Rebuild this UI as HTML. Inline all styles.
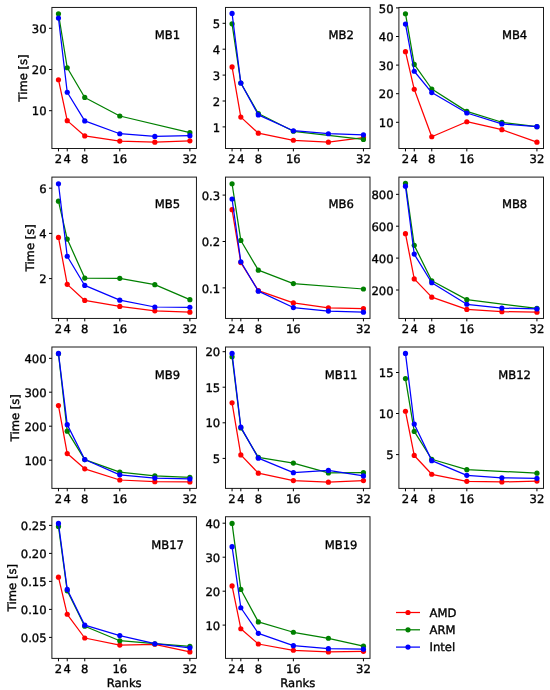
<!DOCTYPE html>
<html lang="en"><head><meta charset="utf-8"><title>Benchmark scaling</title>
<style>html,body{margin:0;padding:0;background:#fff}svg{display:block}</style></head>
<body>
<svg width="550" height="690" viewBox="0 0 550 690" font-family="'DejaVu Sans', 'Liberation Sans', sans-serif" font-size="11.60" fill="#000" stroke="#000" stroke-width="0.35" text-rendering="geometricPrecision">
<rect width="550" height="690" fill="#fff" stroke="none"/>
<g>
<polyline fill="none" stroke="#ff0000" stroke-width="1.25" stroke-linejoin="round" points="58.47,79.73 67.23,120.64 84.75,135.91 119.79,141.09 154.84,142.18 189.88,140.82"/>
<g stroke="none" fill="#ff0000"><circle cx="58.47" cy="79.73" r="2.6"/><circle cx="67.23" cy="120.64" r="2.6"/><circle cx="84.75" cy="135.91" r="2.6"/><circle cx="119.79" cy="141.09" r="2.6"/><circle cx="154.84" cy="142.18" r="2.6"/><circle cx="189.88" cy="140.82" r="2.6"/></g>
<polyline fill="none" stroke="#008000" stroke-width="1.25" stroke-linejoin="round" points="58.47,13.73 67.23,67.73 84.75,97.45 119.79,116 189.88,132.64"/>
<g stroke="none" fill="#008000"><circle cx="58.47" cy="13.73" r="2.6"/><circle cx="67.23" cy="67.73" r="2.6"/><circle cx="84.75" cy="97.45" r="2.6"/><circle cx="119.79" cy="116" r="2.6"/><circle cx="189.88" cy="132.64" r="2.6"/></g>
<polyline fill="none" stroke="#0000ff" stroke-width="1.25" stroke-linejoin="round" points="58.47,18.09 67.23,92.27 84.75,120.91 119.79,133.73 154.84,136.45 189.88,135.64"/>
<g stroke="none" fill="#0000ff"><circle cx="58.47" cy="18.09" r="2.6"/><circle cx="67.23" cy="92.27" r="2.6"/><circle cx="84.75" cy="120.91" r="2.6"/><circle cx="119.79" cy="133.73" r="2.6"/><circle cx="154.84" cy="136.45" r="2.6"/><circle cx="189.88" cy="135.64" r="2.6"/></g>
<rect x="51.9" y="7.45" width="144.55" height="141.05" fill="none" stroke="#1a1a1a" stroke-width="1.0"/>
<path d="M58.47 148.5v2.9M67.23 148.5v2.9M84.75 148.5v2.9M119.79 148.5v2.9M189.88 148.5v2.9M51.9 28.3h-2.9M51.9 69.5h-2.9M51.9 110.7h-2.9" stroke="#000" stroke-width="1.0" fill="none"/>
<g text-anchor="middle"><text x="58.47" y="163.2">2</text><text x="67.23" y="163.2">4</text><text x="84.75" y="163.2">8</text><text x="119.79" y="163.2">16</text><text x="189.88" y="163.2">32</text></g>
<g text-anchor="end"><text x="46.6" y="32.95">30</text><text x="46.6" y="74.15">20</text><text x="46.6" y="115.35">10</text></g>
<text text-anchor="middle" x="167.54" y="38.85">MB1</text>
<text text-anchor="middle" transform="translate(26.7 77.98) rotate(-90)">Time [s]</text>
</g>
<g>
<polyline fill="none" stroke="#ff0000" stroke-width="1.25" stroke-linejoin="round" points="232.07,66.91 240.83,117.09 258.34,133.18 293.37,140.27 328.4,142.18 363.43,137.55"/>
<g stroke="none" fill="#ff0000"><circle cx="232.07" cy="66.91" r="2.6"/><circle cx="240.83" cy="117.09" r="2.6"/><circle cx="258.34" cy="133.18" r="2.6"/><circle cx="293.37" cy="140.27" r="2.6"/><circle cx="328.4" cy="142.18" r="2.6"/><circle cx="363.43" cy="137.55" r="2.6"/></g>
<polyline fill="none" stroke="#008000" stroke-width="1.25" stroke-linejoin="round" points="232.07,23.82 240.83,83 258.34,113.55 293.37,131.27 363.43,139.45"/>
<g stroke="none" fill="#008000"><circle cx="232.07" cy="23.82" r="2.6"/><circle cx="240.83" cy="83" r="2.6"/><circle cx="258.34" cy="113.55" r="2.6"/><circle cx="293.37" cy="131.27" r="2.6"/><circle cx="363.43" cy="139.45" r="2.6"/></g>
<polyline fill="none" stroke="#0000ff" stroke-width="1.25" stroke-linejoin="round" points="232.07,13.45 240.83,83 258.34,114.91 293.37,130.73 328.4,133.73 363.43,134.82"/>
<g stroke="none" fill="#0000ff"><circle cx="232.07" cy="13.45" r="2.6"/><circle cx="240.83" cy="83" r="2.6"/><circle cx="258.34" cy="114.91" r="2.6"/><circle cx="293.37" cy="130.73" r="2.6"/><circle cx="328.4" cy="133.73" r="2.6"/><circle cx="363.43" cy="134.82" r="2.6"/></g>
<rect x="225.5" y="7.45" width="144.5" height="141.05" fill="none" stroke="#1a1a1a" stroke-width="1.0"/>
<path d="M232.07 148.5v2.9M240.83 148.5v2.9M258.34 148.5v2.9M293.37 148.5v2.9M363.43 148.5v2.9M225.5 23.3h-2.9M225.5 49.2h-2.9M225.5 75.1h-2.9M225.5 101h-2.9M225.5 126.9h-2.9" stroke="#000" stroke-width="1.0" fill="none"/>
<g text-anchor="middle"><text x="232.07" y="163.2">2</text><text x="240.83" y="163.2">4</text><text x="258.34" y="163.2">8</text><text x="293.37" y="163.2">16</text><text x="363.43" y="163.2">32</text></g>
<g text-anchor="end"><text x="220.2" y="27.95">5</text><text x="220.2" y="53.85">4</text><text x="220.2" y="79.75">3</text><text x="220.2" y="105.65">2</text><text x="220.2" y="131.55">1</text></g>
<text text-anchor="middle" x="341.1" y="38.85">MB2</text>
</g>
<g>
<polyline fill="none" stroke="#ff0000" stroke-width="1.25" stroke-linejoin="round" points="405.47,51.64 414.24,89.27 431.76,136.73 466.82,121.73 501.87,129.64 536.93,142.18"/>
<g stroke="none" fill="#ff0000"><circle cx="405.47" cy="51.64" r="2.6"/><circle cx="414.24" cy="89.27" r="2.6"/><circle cx="431.76" cy="136.73" r="2.6"/><circle cx="466.82" cy="121.73" r="2.6"/><circle cx="501.87" cy="129.64" r="2.6"/><circle cx="536.93" cy="142.18" r="2.6"/></g>
<polyline fill="none" stroke="#008000" stroke-width="1.25" stroke-linejoin="round" points="405.47,13.73 414.24,64.45 431.76,89 466.82,111.36 501.87,122.27 536.93,126.64"/>
<g stroke="none" fill="#008000"><circle cx="405.47" cy="13.73" r="2.6"/><circle cx="414.24" cy="64.45" r="2.6"/><circle cx="431.76" cy="89" r="2.6"/><circle cx="466.82" cy="111.36" r="2.6"/><circle cx="501.87" cy="122.27" r="2.6"/><circle cx="536.93" cy="126.64" r="2.6"/></g>
<polyline fill="none" stroke="#0000ff" stroke-width="1.25" stroke-linejoin="round" points="405.47,24.09 414.24,71.27 431.76,92.55 466.82,113 501.87,123.91 536.93,126.64"/>
<g stroke="none" fill="#0000ff"><circle cx="405.47" cy="24.09" r="2.6"/><circle cx="414.24" cy="71.27" r="2.6"/><circle cx="431.76" cy="92.55" r="2.6"/><circle cx="466.82" cy="113" r="2.6"/><circle cx="501.87" cy="123.91" r="2.6"/><circle cx="536.93" cy="126.64" r="2.6"/></g>
<rect x="398.9" y="7.45" width="144.6" height="141.05" fill="none" stroke="#1a1a1a" stroke-width="1.0"/>
<path d="M405.47 148.5v2.9M414.24 148.5v2.9M431.76 148.5v2.9M466.82 148.5v2.9M536.93 148.5v2.9M398.9 7.9h-2.9M398.9 36.5h-2.9M398.9 65.1h-2.9M398.9 93.7h-2.9M398.9 122.3h-2.9" stroke="#000" stroke-width="1.0" fill="none"/>
<g text-anchor="middle"><text x="405.47" y="163.2">2</text><text x="414.24" y="163.2">4</text><text x="431.76" y="163.2">8</text><text x="466.82" y="163.2">16</text><text x="536.93" y="163.2">32</text></g>
<g text-anchor="end"><text x="393.6" y="12.55">50</text><text x="393.6" y="41.15">40</text><text x="393.6" y="69.75">30</text><text x="393.6" y="98.35">20</text><text x="393.6" y="126.95">10</text></g>
<text text-anchor="middle" x="514.58" y="38.85">MB4</text>
</g>
<g>
<polyline fill="none" stroke="#ff0000" stroke-width="1.25" stroke-linejoin="round" points="58.47,237.45 67.23,284.36 84.75,300.45 119.79,306.45 154.84,310.82 189.88,312.18"/>
<g stroke="none" fill="#ff0000"><circle cx="58.47" cy="237.45" r="2.6"/><circle cx="67.23" cy="284.36" r="2.6"/><circle cx="84.75" cy="300.45" r="2.6"/><circle cx="119.79" cy="306.45" r="2.6"/><circle cx="154.84" cy="310.82" r="2.6"/><circle cx="189.88" cy="312.18" r="2.6"/></g>
<polyline fill="none" stroke="#008000" stroke-width="1.25" stroke-linejoin="round" points="58.47,201.18 67.23,239.09 84.75,278.09 119.79,278.36 154.84,284.64 189.88,299.64"/>
<g stroke="none" fill="#008000"><circle cx="58.47" cy="201.18" r="2.6"/><circle cx="67.23" cy="239.09" r="2.6"/><circle cx="84.75" cy="278.09" r="2.6"/><circle cx="119.79" cy="278.36" r="2.6"/><circle cx="154.84" cy="284.64" r="2.6"/><circle cx="189.88" cy="299.64" r="2.6"/></g>
<polyline fill="none" stroke="#0000ff" stroke-width="1.25" stroke-linejoin="round" points="58.47,183.73 67.23,256.27 84.75,285.45 119.79,300.18 154.84,307 189.88,307.27"/>
<g stroke="none" fill="#0000ff"><circle cx="58.47" cy="183.73" r="2.6"/><circle cx="67.23" cy="256.27" r="2.6"/><circle cx="84.75" cy="285.45" r="2.6"/><circle cx="119.79" cy="300.18" r="2.6"/><circle cx="154.84" cy="307" r="2.6"/><circle cx="189.88" cy="307.27" r="2.6"/></g>
<rect x="51.9" y="177.1" width="144.55" height="141.35" fill="none" stroke="#1a1a1a" stroke-width="1.0"/>
<path d="M58.47 318.45v2.9M67.23 318.45v2.9M84.75 318.45v2.9M119.79 318.45v2.9M189.88 318.45v2.9M51.9 188.2h-2.9M51.9 233.4h-2.9M51.9 278.6h-2.9" stroke="#000" stroke-width="1.0" fill="none"/>
<g text-anchor="middle"><text x="58.47" y="333.15">2</text><text x="67.23" y="333.15">4</text><text x="84.75" y="333.15">8</text><text x="119.79" y="333.15">16</text><text x="189.88" y="333.15">32</text></g>
<g text-anchor="end"><text x="46.6" y="192.85">6</text><text x="46.6" y="238.05">4</text><text x="46.6" y="283.25">2</text></g>
<text text-anchor="middle" x="167.54" y="208.2">MB5</text>
<text text-anchor="middle" transform="translate(34 247.77) rotate(-90)">Time [s]</text>
</g>
<g>
<polyline fill="none" stroke="#ff0000" stroke-width="1.25" stroke-linejoin="round" points="232.07,209.64 240.83,262.55 258.34,290.64 293.37,302.91 328.4,307.82 363.43,308.64"/>
<g stroke="none" fill="#ff0000"><circle cx="232.07" cy="209.64" r="2.6"/><circle cx="240.83" cy="262.55" r="2.6"/><circle cx="258.34" cy="290.64" r="2.6"/><circle cx="293.37" cy="302.91" r="2.6"/><circle cx="328.4" cy="307.82" r="2.6"/><circle cx="363.43" cy="308.64" r="2.6"/></g>
<polyline fill="none" stroke="#008000" stroke-width="1.25" stroke-linejoin="round" points="232.07,183.73 240.83,240.45 258.34,270.18 293.37,283.55 363.43,289"/>
<g stroke="none" fill="#008000"><circle cx="232.07" cy="183.73" r="2.6"/><circle cx="240.83" cy="240.45" r="2.6"/><circle cx="258.34" cy="270.18" r="2.6"/><circle cx="293.37" cy="283.55" r="2.6"/><circle cx="363.43" cy="289" r="2.6"/></g>
<polyline fill="none" stroke="#0000ff" stroke-width="1.25" stroke-linejoin="round" points="232.07,199 240.83,261.73 258.34,291.18 293.37,307.55 328.4,311.09 363.43,312.18"/>
<g stroke="none" fill="#0000ff"><circle cx="232.07" cy="199" r="2.6"/><circle cx="240.83" cy="261.73" r="2.6"/><circle cx="258.34" cy="291.18" r="2.6"/><circle cx="293.37" cy="307.55" r="2.6"/><circle cx="328.4" cy="311.09" r="2.6"/><circle cx="363.43" cy="312.18" r="2.6"/></g>
<rect x="225.5" y="177.1" width="144.5" height="141.35" fill="none" stroke="#1a1a1a" stroke-width="1.0"/>
<path d="M232.07 318.45v2.9M240.83 318.45v2.9M258.34 318.45v2.9M293.37 318.45v2.9M363.43 318.45v2.9M225.5 195.1h-2.9M225.5 241.5h-2.9M225.5 287.9h-2.9" stroke="#000" stroke-width="1.0" fill="none"/>
<g text-anchor="middle"><text x="232.07" y="333.15">2</text><text x="240.83" y="333.15">4</text><text x="258.34" y="333.15">8</text><text x="293.37" y="333.15">16</text><text x="363.43" y="333.15">32</text></g>
<g text-anchor="end"><text x="220.2" y="199.75">0.3</text><text x="220.2" y="246.15">0.2</text><text x="220.2" y="292.55">0.1</text></g>
<text text-anchor="middle" x="341.1" y="208.2">MB6</text>
</g>
<g>
<polyline fill="none" stroke="#ff0000" stroke-width="1.25" stroke-linejoin="round" points="405.47,233.64 414.24,278.91 431.76,297.18 466.82,309.45 501.87,311.64 536.93,312.18"/>
<g stroke="none" fill="#ff0000"><circle cx="405.47" cy="233.64" r="2.6"/><circle cx="414.24" cy="278.91" r="2.6"/><circle cx="431.76" cy="297.18" r="2.6"/><circle cx="466.82" cy="309.45" r="2.6"/><circle cx="501.87" cy="311.64" r="2.6"/><circle cx="536.93" cy="312.18" r="2.6"/></g>
<polyline fill="none" stroke="#008000" stroke-width="1.25" stroke-linejoin="round" points="405.47,183.45 414.24,245.36 431.76,280.82 466.82,299.64 536.93,308.36"/>
<g stroke="none" fill="#008000"><circle cx="405.47" cy="183.45" r="2.6"/><circle cx="414.24" cy="245.36" r="2.6"/><circle cx="431.76" cy="280.82" r="2.6"/><circle cx="466.82" cy="299.64" r="2.6"/><circle cx="536.93" cy="308.36" r="2.6"/></g>
<polyline fill="none" stroke="#0000ff" stroke-width="1.25" stroke-linejoin="round" points="405.47,186.18 414.24,254.09 431.76,282.73 466.82,304.27 501.87,308.09 536.93,308.91"/>
<g stroke="none" fill="#0000ff"><circle cx="405.47" cy="186.18" r="2.6"/><circle cx="414.24" cy="254.09" r="2.6"/><circle cx="431.76" cy="282.73" r="2.6"/><circle cx="466.82" cy="304.27" r="2.6"/><circle cx="501.87" cy="308.09" r="2.6"/><circle cx="536.93" cy="308.91" r="2.6"/></g>
<rect x="398.9" y="177.1" width="144.6" height="141.35" fill="none" stroke="#1a1a1a" stroke-width="1.0"/>
<path d="M405.47 318.45v2.9M414.24 318.45v2.9M431.76 318.45v2.9M466.82 318.45v2.9M536.93 318.45v2.9M398.9 194.35h-2.9M398.9 226.2h-2.9M398.9 258.1h-2.9M398.9 290h-2.9" stroke="#000" stroke-width="1.0" fill="none"/>
<g text-anchor="middle"><text x="405.47" y="333.15">2</text><text x="414.24" y="333.15">4</text><text x="431.76" y="333.15">8</text><text x="466.82" y="333.15">16</text><text x="536.93" y="333.15">32</text></g>
<g text-anchor="end"><text x="393.6" y="199">800</text><text x="393.6" y="230.85">600</text><text x="393.6" y="262.75">400</text><text x="393.6" y="294.65">200</text></g>
<text text-anchor="middle" x="514.58" y="208.2">MB8</text>
</g>
<g>
<polyline fill="none" stroke="#ff0000" stroke-width="1.25" stroke-linejoin="round" points="58.47,405.55 67.23,453.55 84.75,468.82 119.79,480 154.84,481.64 189.88,481.91"/>
<g stroke="none" fill="#ff0000"><circle cx="58.47" cy="405.55" r="2.6"/><circle cx="67.23" cy="453.55" r="2.6"/><circle cx="84.75" cy="468.82" r="2.6"/><circle cx="119.79" cy="480" r="2.6"/><circle cx="154.84" cy="481.64" r="2.6"/><circle cx="189.88" cy="481.91" r="2.6"/></g>
<polyline fill="none" stroke="#008000" stroke-width="1.25" stroke-linejoin="round" points="58.47,353.73 67.23,431.18 84.75,459.55 119.79,472.09 154.84,475.91 189.88,477.27"/>
<g stroke="none" fill="#008000"><circle cx="58.47" cy="353.73" r="2.6"/><circle cx="67.23" cy="431.18" r="2.6"/><circle cx="84.75" cy="459.55" r="2.6"/><circle cx="119.79" cy="472.09" r="2.6"/><circle cx="154.84" cy="475.91" r="2.6"/><circle cx="189.88" cy="477.27" r="2.6"/></g>
<polyline fill="none" stroke="#0000ff" stroke-width="1.25" stroke-linejoin="round" points="58.47,353.45 67.23,424.64 84.75,459.55 119.79,474.82 154.84,478.09 189.88,478.91"/>
<g stroke="none" fill="#0000ff"><circle cx="58.47" cy="353.45" r="2.6"/><circle cx="67.23" cy="424.64" r="2.6"/><circle cx="84.75" cy="459.55" r="2.6"/><circle cx="119.79" cy="474.82" r="2.6"/><circle cx="154.84" cy="478.09" r="2.6"/><circle cx="189.88" cy="478.91" r="2.6"/></g>
<rect x="51.9" y="347" width="144.55" height="141.4" fill="none" stroke="#1a1a1a" stroke-width="1.0"/>
<path d="M58.47 488.4v2.9M67.23 488.4v2.9M84.75 488.4v2.9M119.79 488.4v2.9M189.88 488.4v2.9M51.9 358.35h-2.9M51.9 392.2h-2.9M51.9 426.2h-2.9M51.9 460.2h-2.9" stroke="#000" stroke-width="1.0" fill="none"/>
<g text-anchor="middle"><text x="58.47" y="503.1">2</text><text x="67.23" y="503.1">4</text><text x="84.75" y="503.1">8</text><text x="119.79" y="503.1">16</text><text x="189.88" y="503.1">32</text></g>
<g text-anchor="end"><text x="46.6" y="363">400</text><text x="46.6" y="396.85">300</text><text x="46.6" y="430.85">200</text><text x="46.6" y="464.85">100</text></g>
<text text-anchor="middle" x="167.54" y="378.8">MB9</text>
<text text-anchor="middle" transform="translate(18.7 417.7) rotate(-90)">Time [s]</text>
</g>
<g>
<polyline fill="none" stroke="#ff0000" stroke-width="1.25" stroke-linejoin="round" points="232.07,402.82 240.83,454.91 258.34,473.18 293.37,480.55 328.4,482.18 363.43,480.55"/>
<g stroke="none" fill="#ff0000"><circle cx="232.07" cy="402.82" r="2.6"/><circle cx="240.83" cy="454.91" r="2.6"/><circle cx="258.34" cy="473.18" r="2.6"/><circle cx="293.37" cy="480.55" r="2.6"/><circle cx="328.4" cy="482.18" r="2.6"/><circle cx="363.43" cy="480.55" r="2.6"/></g>
<polyline fill="none" stroke="#008000" stroke-width="1.25" stroke-linejoin="round" points="232.07,356.73 240.83,427.91 258.34,457.36 293.37,463.09 328.4,472.91 363.43,472.64"/>
<g stroke="none" fill="#008000"><circle cx="232.07" cy="356.73" r="2.6"/><circle cx="240.83" cy="427.91" r="2.6"/><circle cx="258.34" cy="457.36" r="2.6"/><circle cx="293.37" cy="463.09" r="2.6"/><circle cx="328.4" cy="472.91" r="2.6"/><circle cx="363.43" cy="472.64" r="2.6"/></g>
<polyline fill="none" stroke="#0000ff" stroke-width="1.25" stroke-linejoin="round" points="232.07,353.45 240.83,427.09 258.34,458.18 293.37,472.64 328.4,470.45 363.43,475.91"/>
<g stroke="none" fill="#0000ff"><circle cx="232.07" cy="353.45" r="2.6"/><circle cx="240.83" cy="427.09" r="2.6"/><circle cx="258.34" cy="458.18" r="2.6"/><circle cx="293.37" cy="472.64" r="2.6"/><circle cx="328.4" cy="470.45" r="2.6"/><circle cx="363.43" cy="475.91" r="2.6"/></g>
<rect x="225.5" y="347" width="144.5" height="141.4" fill="none" stroke="#1a1a1a" stroke-width="1.0"/>
<path d="M232.07 488.4v2.9M240.83 488.4v2.9M258.34 488.4v2.9M293.37 488.4v2.9M363.43 488.4v2.9M225.5 351.7h-2.9M225.5 387.2h-2.9M225.5 422.8h-2.9M225.5 458.4h-2.9" stroke="#000" stroke-width="1.0" fill="none"/>
<g text-anchor="middle"><text x="232.07" y="503.1">2</text><text x="240.83" y="503.1">4</text><text x="258.34" y="503.1">8</text><text x="293.37" y="503.1">16</text><text x="363.43" y="503.1">32</text></g>
<g text-anchor="end"><text x="220.2" y="356.35">20</text><text x="220.2" y="391.85">15</text><text x="220.2" y="427.45">10</text><text x="220.2" y="463.05">5</text></g>
<text text-anchor="middle" x="341.1" y="378.8">MB11</text>
</g>
<g>
<polyline fill="none" stroke="#ff0000" stroke-width="1.25" stroke-linejoin="round" points="405.47,411.27 414.24,455.45 431.76,474.27 466.82,481.36 501.87,481.91 536.93,481.09"/>
<g stroke="none" fill="#ff0000"><circle cx="405.47" cy="411.27" r="2.6"/><circle cx="414.24" cy="455.45" r="2.6"/><circle cx="431.76" cy="474.27" r="2.6"/><circle cx="466.82" cy="481.36" r="2.6"/><circle cx="501.87" cy="481.91" r="2.6"/><circle cx="536.93" cy="481.09" r="2.6"/></g>
<polyline fill="none" stroke="#008000" stroke-width="1.25" stroke-linejoin="round" points="405.47,378.55 414.24,431.45 431.76,459.27 466.82,469.64 536.93,473.18"/>
<g stroke="none" fill="#008000"><circle cx="405.47" cy="378.55" r="2.6"/><circle cx="414.24" cy="431.45" r="2.6"/><circle cx="431.76" cy="459.27" r="2.6"/><circle cx="466.82" cy="469.64" r="2.6"/><circle cx="536.93" cy="473.18" r="2.6"/></g>
<polyline fill="none" stroke="#0000ff" stroke-width="1.25" stroke-linejoin="round" points="405.47,353.45 414.24,424.09 431.76,460.64 466.82,475.36 501.87,477.82 536.93,478.36"/>
<g stroke="none" fill="#0000ff"><circle cx="405.47" cy="353.45" r="2.6"/><circle cx="414.24" cy="424.09" r="2.6"/><circle cx="431.76" cy="460.64" r="2.6"/><circle cx="466.82" cy="475.36" r="2.6"/><circle cx="501.87" cy="477.82" r="2.6"/><circle cx="536.93" cy="478.36" r="2.6"/></g>
<rect x="398.9" y="347" width="144.6" height="141.4" fill="none" stroke="#1a1a1a" stroke-width="1.0"/>
<path d="M405.47 488.4v2.9M414.24 488.4v2.9M431.76 488.4v2.9M466.82 488.4v2.9M536.93 488.4v2.9M398.9 372.5h-2.9M398.9 413.5h-2.9M398.9 454.6h-2.9" stroke="#000" stroke-width="1.0" fill="none"/>
<g text-anchor="middle"><text x="405.47" y="503.1">2</text><text x="414.24" y="503.1">4</text><text x="431.76" y="503.1">8</text><text x="466.82" y="503.1">16</text><text x="536.93" y="503.1">32</text></g>
<g text-anchor="end"><text x="393.6" y="377.15">15</text><text x="393.6" y="418.15">10</text><text x="393.6" y="459.25">5</text></g>
<text text-anchor="middle" x="514.58" y="378.8">MB12</text>
</g>
<g>
<polyline fill="none" stroke="#ff0000" stroke-width="1.25" stroke-linejoin="round" points="58.47,577.18 67.23,614.27 84.75,638 119.79,645.09 154.84,644.27 189.88,651.91"/>
<g stroke="none" fill="#ff0000"><circle cx="58.47" cy="577.18" r="2.6"/><circle cx="67.23" cy="614.27" r="2.6"/><circle cx="84.75" cy="638" r="2.6"/><circle cx="119.79" cy="645.09" r="2.6"/><circle cx="154.84" cy="644.27" r="2.6"/><circle cx="189.88" cy="651.91" r="2.6"/></g>
<polyline fill="none" stroke="#008000" stroke-width="1.25" stroke-linejoin="round" points="58.47,526.45 67.23,590.82 84.75,626.27 119.79,640.73 154.84,643.73 189.88,646.45"/>
<g stroke="none" fill="#008000"><circle cx="58.47" cy="526.45" r="2.6"/><circle cx="67.23" cy="590.82" r="2.6"/><circle cx="84.75" cy="626.27" r="2.6"/><circle cx="119.79" cy="640.73" r="2.6"/><circle cx="154.84" cy="643.73" r="2.6"/><circle cx="189.88" cy="646.45" r="2.6"/></g>
<polyline fill="none" stroke="#0000ff" stroke-width="1.25" stroke-linejoin="round" points="58.47,523.45 67.23,589.45 84.75,625.18 119.79,635.55 154.84,643.73 189.88,647.82"/>
<g stroke="none" fill="#0000ff"><circle cx="58.47" cy="523.45" r="2.6"/><circle cx="67.23" cy="589.45" r="2.6"/><circle cx="84.75" cy="625.18" r="2.6"/><circle cx="119.79" cy="635.55" r="2.6"/><circle cx="154.84" cy="643.73" r="2.6"/><circle cx="189.88" cy="647.82" r="2.6"/></g>
<rect x="51.9" y="516.73" width="144.55" height="141.67" fill="none" stroke="#1a1a1a" stroke-width="1.0"/>
<path d="M58.47 658.4v2.9M67.23 658.4v2.9M84.75 658.4v2.9M119.79 658.4v2.9M189.88 658.4v2.9M51.9 525.4h-2.9M51.9 553.4h-2.9M51.9 581.4h-2.9M51.9 609.4h-2.9M51.9 637.4h-2.9" stroke="#000" stroke-width="1.0" fill="none"/>
<g text-anchor="middle"><text x="58.47" y="672.7">2</text><text x="67.23" y="672.7">4</text><text x="84.75" y="672.7">8</text><text x="119.79" y="672.7">16</text><text x="189.88" y="672.7">32</text></g>
<g text-anchor="end"><text x="46.6" y="530.05">0.25</text><text x="46.6" y="558.05">0.20</text><text x="46.6" y="586.05">0.15</text><text x="46.6" y="614.05">0.10</text><text x="46.6" y="642.05">0.05</text></g>
<text text-anchor="middle" x="167.54" y="548.53">MB17</text>
<text text-anchor="middle" transform="translate(15.7 587.57) rotate(-90)">Time [s]</text>
<text text-anchor="middle" x="124.17" y="687.1">Ranks</text>
</g>
<g>
<polyline fill="none" stroke="#ff0000" stroke-width="1.25" stroke-linejoin="round" points="232.07,585.91 240.83,628.73 258.34,644 293.37,650.27 328.4,651.91 363.43,651.36"/>
<g stroke="none" fill="#ff0000"><circle cx="232.07" cy="585.91" r="2.6"/><circle cx="240.83" cy="628.73" r="2.6"/><circle cx="258.34" cy="644" r="2.6"/><circle cx="293.37" cy="650.27" r="2.6"/><circle cx="328.4" cy="651.91" r="2.6"/><circle cx="363.43" cy="651.36" r="2.6"/></g>
<polyline fill="none" stroke="#008000" stroke-width="1.25" stroke-linejoin="round" points="232.07,523.45 240.83,589.45 258.34,621.91 293.37,632.27 328.4,638.27 363.43,646.18"/>
<g stroke="none" fill="#008000"><circle cx="232.07" cy="523.45" r="2.6"/><circle cx="240.83" cy="589.45" r="2.6"/><circle cx="258.34" cy="621.91" r="2.6"/><circle cx="293.37" cy="632.27" r="2.6"/><circle cx="328.4" cy="638.27" r="2.6"/><circle cx="363.43" cy="646.18" r="2.6"/></g>
<polyline fill="none" stroke="#0000ff" stroke-width="1.25" stroke-linejoin="round" points="232.07,546.64 240.83,607.73 258.34,633.36 293.37,645.64 328.4,648.64 363.43,649.18"/>
<g stroke="none" fill="#0000ff"><circle cx="232.07" cy="546.64" r="2.6"/><circle cx="240.83" cy="607.73" r="2.6"/><circle cx="258.34" cy="633.36" r="2.6"/><circle cx="293.37" cy="645.64" r="2.6"/><circle cx="328.4" cy="648.64" r="2.6"/><circle cx="363.43" cy="649.18" r="2.6"/></g>
<rect x="225.5" y="516.73" width="144.5" height="141.67" fill="none" stroke="#1a1a1a" stroke-width="1.0"/>
<path d="M232.07 658.4v2.9M240.83 658.4v2.9M258.34 658.4v2.9M293.37 658.4v2.9M363.43 658.4v2.9M225.5 523.2h-2.9M225.5 557.2h-2.9M225.5 591.2h-2.9M225.5 625.1h-2.9" stroke="#000" stroke-width="1.0" fill="none"/>
<g text-anchor="middle"><text x="232.07" y="672.7">2</text><text x="240.83" y="672.7">4</text><text x="258.34" y="672.7">8</text><text x="293.37" y="672.7">16</text><text x="363.43" y="672.7">32</text></g>
<g text-anchor="end"><text x="220.2" y="527.85">40</text><text x="220.2" y="561.85">30</text><text x="220.2" y="595.85">20</text><text x="220.2" y="629.75">10</text></g>
<text text-anchor="middle" x="341.1" y="548.53">MB19</text>
<text text-anchor="middle" x="297.75" y="687.1">Ranks</text>
</g>
<path d="M396 612.5h24" stroke="#ff0000" stroke-width="1.25"/>
<circle stroke="none" cx="408" cy="612.5" r="2.6" fill="#ff0000"/>
<text x="429.5" y="616.6">AMD</text>
<path d="M396 629.8h24" stroke="#008000" stroke-width="1.25"/>
<circle stroke="none" cx="408" cy="629.8" r="2.6" fill="#008000"/>
<text x="429.5" y="633.9">ARM</text>
<path d="M396 647.1h24" stroke="#0000ff" stroke-width="1.25"/>
<circle stroke="none" cx="408" cy="647.1" r="2.6" fill="#0000ff"/>
<text x="429.5" y="651.2">Intel</text>
</svg>
</body></html>
